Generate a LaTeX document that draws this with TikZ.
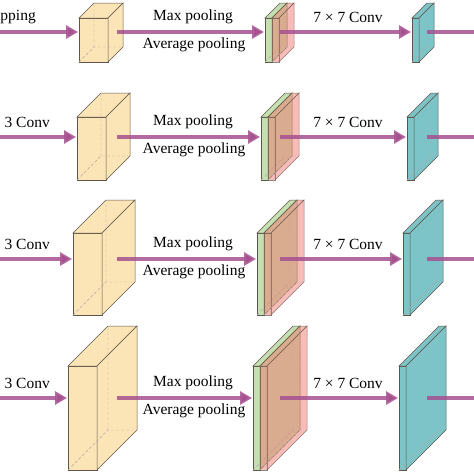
\documentclass[tikz,border=0pt]{standalone}
\usepackage{fontspec}
\setmainfont{Liberation Serif}
\usetikzlibrary{arrows.meta}

\definecolor{edgecol}{RGB}{95,85,75}
\definecolor{cubecol}{RGB}{251,228,182}
\definecolor{maxcol}{RGB}{196,224,176}
\definecolor{avgcol}{RGB}{240,122,112}
\definecolor{convcol}{RGB}{124,196,200}
\definecolor{flowcol}{RGB}{166,80,143}

% x, top, bottom, width, depth, style
\newcommand{\cuboid}[6]{%
  \filldraw[#6] (#1,#2) rectangle (#1+#4,#3);
  \filldraw[#6] (#1,#2) -- ++(#5,-#5) -- ++(#4,0) -- (#1+#4,#2) -- cycle;
  \filldraw[#6] (#1+#4,#2) -- ++(#5,-#5) -- ++(0,#3-#2) -- (#1+#4,#3) -- cycle;
  \draw[hidden] (#1,#3) -- ++(#5,-#5) coordinate (h) -- ++(#4,0) (h) -- ++(0,#2-#3);
}

\begin{document}
\begin{tikzpicture}[x=1pt,y=-1pt,
    edge/.style={draw=edgecol,line width=0.5pt},
    hidden/.style={draw=edgecol!50,line width=0.4pt,densely dashed},
    cube/.style={edge,fill=cubecol},
    maxmap/.style={edge,fill=maxcol},
    avgmap/.style={edge,draw opacity=0.7,fill=avgcol,fill opacity=0.5},
    convmap/.style={edge,fill=convcol},
    flow/.style={line width=4pt,draw=flowcol,draw opacity=0.85,-{Triangle[length=12pt,width=13pt]}},
    flowout/.style={line width=4pt,draw=flowcol,draw opacity=0.85},
    lbl/.style={font=\fontsize{15.5}{18}\selectfont,inner sep=0pt}]
  \useasboundingbox (0,0) rectangle (474,474);

  % rows: number / arrow y / face top / face bottom / depth / cube x / pooled x / conv x / label end / input label
  \foreach \r/\ya/\ft/\fb/\dd/\xa/\xb/\xc/\xl/\txt in {
      1/32/18/62/15/79/265/412/36/Mapping,
      2/137/117/180/24/77/261/407/50/3 × 3 Conv,
      3/259/233/315/33/73/257/403/50/3 × 3 Conv,
      4/398/366/470/40/68/253/399/50/3 × 3 Conv}{
    % blocks
    \cuboid{\xa}{\ft}{\fb}{29}{\dd}{cube}
    \cuboid{\xb}{\ft}{\fb}{7}{\dd}{maxmap}
    \cuboid{\xb+7}{\ft}{\fb}{7}{\dd}{avgmap}
    \cuboid{\xc}{\ft}{\fb}{7}{\dd}{convmap}

    % ends of the arrows
    \coordinate (src\r) at (-5,\ya);
    \coordinate (cubein\r) at (\xa-1,\ya);
    \coordinate (cubeout\r) at (117,\ya);
    \coordinate (poolin\r) at (\xb-1,\ya);
    \coordinate (poolout\r) at (280,\ya);
    \coordinate (convin\r) at (\xc-1,\ya);
    \coordinate (convout\r) at (427,\ya);
    \coordinate (sink\r) at (480,\ya);

    \draw[flow] (src\r) -- (cubein\r);
    \draw[flow] (cubeout\r) -- (poolin\r);
    \draw[flow] (poolout\r) -- (convin\r);
    \draw[flowout] (convout\r) -- (sink\r);

    % labels
    \node[lbl,anchor=east] (in\r) at (\xl,\ya-15) {\txt};
    \node[lbl] (max\r) at (193,\ya-15) {Max pooling};
    \node[lbl] (avg\r) at (194,\ya+13) {Average pooling};
    \node[lbl] (conv\r) at (348,\ya-15) {7 × 7 Conv};
  }
\end{tikzpicture}
\end{document}
